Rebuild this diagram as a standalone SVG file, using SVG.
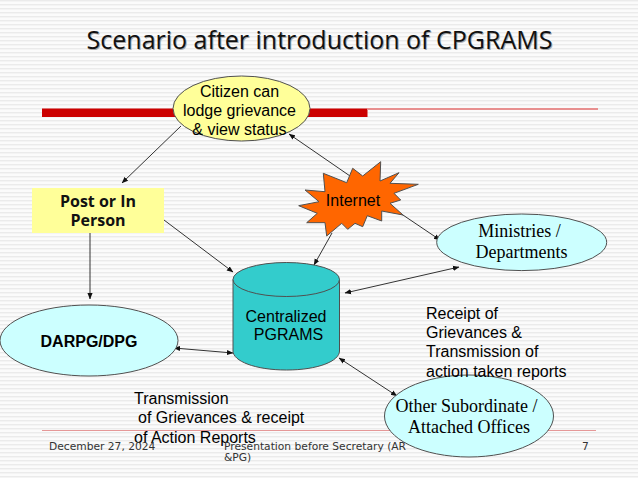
<svg xmlns="http://www.w3.org/2000/svg" width="638" height="478" viewBox="0 0 638 478">
<style>
.sans{font-family:"Liberation Sans",Arial,sans-serif;font-size:16px;fill:#000}
.serif{font-family:"Liberation Serif","Times New Roman",serif;font-size:18px;fill:#000}
.foot{font-family:"DejaVu Sans",sans-serif;font-size:10.7px;fill:#333}
.ttl{font-family:"Open Sans","Noto Sans",sans-serif;font-size:25px}
.post{font-family:"Open Sans",sans-serif;font-size:16px;font-weight:700;fill:#111}
.node{stroke:#505050;stroke-width:1}
.c{stroke:#333;stroke-width:1;fill:none;marker-end:url(#a)}
.d{stroke:#333;stroke-width:1;fill:none;marker-start:url(#b);marker-end:url(#a)}
.m{text-anchor:middle}
</style>
<defs>
<pattern id="st" width="4" height="4" patternUnits="userSpaceOnUse"><rect width="4" height="4" fill="#fbfbfb"/><rect width="4" height="1.4" fill="#ebebeb"/></pattern>
<marker id="a" viewBox="0 0 8 8" refX="7.5" refY="4" markerWidth="6.500" markerHeight="6.500" markerUnits="userSpaceOnUse" orient="auto"><path d="M0 0.8L8 4L0 7.2Z" fill="#111"/></marker>
<marker id="b" viewBox="0 0 8 8" refX="0.5" refY="4" markerWidth="6.500" markerHeight="6.500" markerUnits="userSpaceOnUse" orient="auto"><path d="M8 0.8L0 4L8 7.2Z" fill="#111"/></marker>
</defs>
<rect width="638" height="478" fill="url(#st)"/>
<g id="decor">
<rect x="42" y="108.500" width="325.500" height="8.500" fill="#cc0000"/>
<rect x="367" y="108" width="231" height="2" fill="#e89090"/>
<rect x="42" y="430" width="554" height="0.800" fill="#e08080"/>
</g>
<text x="320.500" y="50" class="ttl m" fill="#aaa">Scenario after introduction of CPGRAMS</text>
<text id="title" x="319.500" y="49" class="ttl m" fill="#111">Scenario after introduction of CPGRAMS</text>
<g id="connectors">
<path class="c" d="M181 126L122 183"/>
<path class="c" d="M350 176L289 134"/>
<path class="c" d="M90 231V299"/>
<path class="c" d="M164 220L233 272"/>
<path class="c" d="M332 233L314 265"/>
<path class="c" d="M400 213L440 240"/>
<path class="d" d="M345 293L459 267"/>
<path class="d" d="M174 348L233 353"/>
<path class="d" d="M339 358L397 396"/>
</g>
<g id="citizen">
<ellipse cx="241.500" cy="108.500" rx="68.500" ry="32.500" fill="#ffff99" class="node"/>
<text x="239.500" y="97" class="sans m">Citizen can</text>
<text x="239.500" y="116" class="sans m">lodge grievance</text>
<text x="239.500" y="135" class="sans m">&amp; view status</text>
</g>
<g id="post">
<rect x="32" y="188" width="132" height="45" fill="#ffff99"/>
<text x="98" y="207" class="post m">Post or In</text>
<text x="98" y="226" class="post m">Person</text>
</g>
<g id="internet">
<polygon points="298.700,205.700 319,201.700 305,190 325,191.700 323.300,173.300 346.700,182.700 352.700,168.300 362.700,176 380.700,161.700 380,181 399,172.700 390,183.300 418.300,184.300 394,193.300 400.700,200 390,203.300 403,215 381.700,211 381.700,221 367.300,215.700 362.700,226.700 355,223.300 347.700,229.300 341.700,223.300 326.700,236 325,222.700 306.700,222.700 317.300,213.300" fill="#ff6600" class="node"/>
<text x="353" y="206" class="sans m">Internet</text>
</g>
<g id="ministries">
<ellipse cx="521.700" cy="242.300" rx="85" ry="28.300" fill="#ccffff" class="node"/>
<text x="519.500" y="237" class="serif m">Ministries /</text>
<text x="521.500" y="258" class="serif m">Departments</text>
</g>
<g id="pgrams">
<path d="M233 279.500V351C233 361 255 370 286.500 370C318 370 339.500 361 339.500 351V279.500Z" fill="#33cccc" class="node"/>
<ellipse cx="286.250" cy="279.500" rx="53.250" ry="17" fill="#33cccc" class="node"/>
<text x="286" y="322" class="sans m">Centralized</text>
<text x="288.500" y="340" class="sans m">PGRAMS</text>
</g>
<g id="darpg">
<ellipse cx="89" cy="340.500" rx="89" ry="35.500" fill="#ccffff" class="node"/>
<text x="89" y="347" class="sans m" style="font-weight:700">DARPG/DPG</text>
</g>
<g id="offices">
<ellipse cx="469" cy="416" rx="84.500" ry="41" fill="#ccffff" class="node"/>
<text x="466.500" y="412" class="serif m">Other Subordinate /</text>
<text x="469" y="433" class="serif m">Attached Offices</text>
</g>
<g id="labels">
<text x="426" y="319" class="sans">Receipt of</text>
<text x="426" y="338" class="sans">Grievances &amp;</text>
<text x="426" y="357" class="sans">Transmission of</text>
<text x="426" y="377" class="sans">action taken reports</text>
<text x="134" y="404" class="sans">Transmission</text>
<text x="138" y="423" class="sans">of Grievances &amp; receipt</text>
<text x="134" y="443" class="sans">of Action Reports</text>
</g>
<g id="footer">
<text x="49" y="450" class="foot">December 27, 2024</text>
<text x="224" y="450" class="foot">Presentation before Secretary (AR</text>
<text x="224" y="461" class="foot">&amp;PG)</text>
<text x="582" y="450" class="foot">7</text>
</g>
</svg>
